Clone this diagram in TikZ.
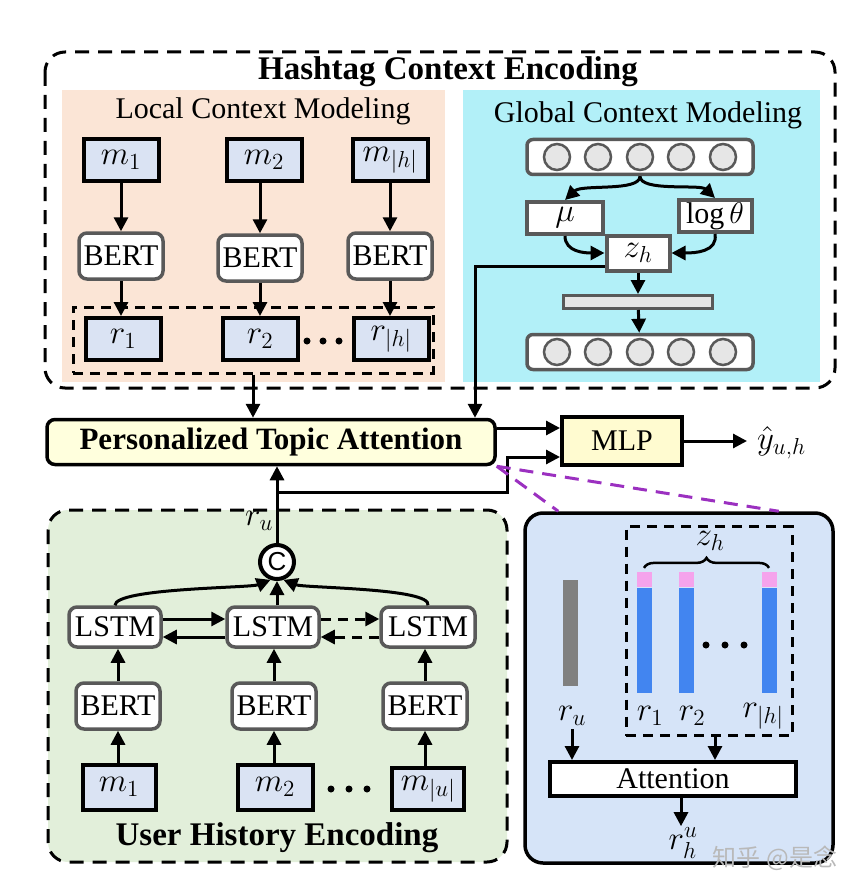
\documentclass[tikz,border=0pt]{standalone}
\usepackage{fontspec}
\setmainfont{Liberation Serif}
\newfontfamily\cjk{Noto Sans CJK SC}
\newfontfamily\sanscirc{Liberation Sans}
% scalable math fonts for the large sizes used below
\DeclareFontShape{OML}{cmm}{m}{it}{<->cmmi12}{\skewchar\font=127 }
\DeclareFontShape{OMS}{cmsy}{m}{n}{<->cmsy10}{\skewchar\font=48 }
\DeclareFontShape{OT1}{cmr}{m}{n}{<->cmr12}{}
\DeclareFontShape{OMX}{cmex}{m}{n}{<->cmex10}{}
\usepackage{tikz}
\usetikzlibrary{arrows.meta,decorations.pathreplacing}
\definecolor{localbg}{HTML}{FBE5D6}
\definecolor{globalbg}{HTML}{B2F0F8}
\definecolor{userbg}{HTML}{E2EFDA}
\definecolor{boxblue}{HTML}{DAE3F3}
\definecolor{panelblue}{HTML}{D6E4F8}
\definecolor{ptayellow}{HTML}{FFFFDD}
\definecolor{mlpyellow}{HTML}{FFFBD0}
\definecolor{edgegray}{HTML}{595959}
\definecolor{unitgray}{HTML}{E6E6E6}
\definecolor{rugray}{HTML}{808080}
\definecolor{barblue}{HTML}{4285F0}
\definecolor{barpink}{HTML}{F5A3EC}
\definecolor{zoomline}{HTML}{9B30C0}
\tikzset{
  mathtxt/.style={font=\fontsize{33}{38}\selectfont},
  msg/.style={draw, line width=4pt, fill=boxblue, minimum width=75pt,
    minimum height=42pt, inner sep=0pt, mathtxt},
  enc/.style={draw=edgegray, line width=3.5pt, rounded corners=8pt, fill=white,
    minimum width=84pt, minimum height=46pt, inner sep=0pt},
  lat/.style={draw=edgegray, line width=4pt, fill=white, minimum height=32pt,
    inner sep=0pt},
  vecbar/.style={draw=edgegray, line width=3.5pt, rounded corners=6pt, fill=white,
    minimum width=226pt, minimum height=35pt, inner sep=0pt},
  unit/.style={circle, draw=edgegray, line width=2.5pt, fill=unitgray,
    minimum size=26pt, inner sep=0pt},
  arr/.style={line width=3pt, -{Triangle[length=14pt,width=14pt]}},
  groupbox/.style={draw, line width=3pt, dash pattern=on 14pt off 9pt,
    rounded corners=20pt},
  dashbox/.style={draw, line width=3pt, dash pattern=on 10pt off 7pt,
    inner sep=0pt},
  bluebar/.style={fill=barblue, minimum width=15pt, minimum height=105pt,
    inner sep=0pt},
  pinktop/.style={fill=barpink, minimum width=15pt, minimum height=15pt,
    inner sep=0pt, anchor=south},
  dotsym/.style={circle, fill, minimum size=7pt, inner sep=0pt}
}

\begin{document}
\begin{tikzpicture}[x=1pt, y=-1pt, font=\fontsize{30}{36}\selectfont]
  \useasboundingbox (0,0) rectangle (860,896);

  % Hashtag context encoding
  \fill[localbg] (62,90) rectangle (445,382);
  \fill[globalbg] (463,90) rectangle (820,382);
  \draw[groupbox] (45,52) rectangle (835,388);
  \node[font=\fontsize{33}{38}\selectfont\bfseries] (htitle) at (448,72) {Hashtag Context Encoding};
  \node (ltitle) at (263,111) {Local Context Modeling};
  \node (gtitle) at (648,115) {Global Context Modeling};

  % Local context: messages -> BERT -> representations
  \node[msg] (hm1) at (121,160) {$m_1$};
  \node[msg] (hm2) at (264,160) {$m_2$};
  \node[msg] (hm3) at (390,160) {$m_{|h|}$};
  \node[enc] (hb1) at (121,256) {BERT};
  \node[enc] (hb2) at (260,258) {BERT};
  \node[enc] (hb3) at (390,256) {BERT};
  \node[dashbox, minimum width=360pt, minimum height=66pt] (hr) at (253,340) {};
  \node[msg] (hr1) at (123,339) {$r_1$};
  \node[msg] (hr2) at (260,339) {$r_2$};
  \node[msg] (hr3) at (391,339) {$r_{|h|}$};
  \node[dotsym] (hd1) at (307,341) {};
  \node[dotsym] (hd2) at (323,341) {};
  \node[dotsym] (hd3) at (339,341) {};
  \foreach \i in {1,2,3} {
    \draw[arr] (hb\i.north |- hm\i.south) -- (hb\i.north);
    \draw[arr] (hb\i.south) -- (hb\i.south |- hr\i.north);
  }

  % Global context: topic model
  \node[vecbar] (gin) at (640,157) {};
  \node[vecbar] (gout) at (640,352) {};
  \foreach \x [count=\i] in {557,598,640,681,723} {
    \node[unit] (gi\i) at (\x,157) {};
    \node[unit] (go\i) at (\x,352) {};
  }
  \node[lat, minimum width=76pt, mathtxt] (mu) at (565,218) {$\mu$};
  \node[lat, minimum width=73pt] (lt) at (715,216) {$\log\theta$};
  \node[lat, minimum width=63pt, minimum height=35pt, mathtxt] (zh) at (638,253) {$z_h$};
  \node[draw=edgegray, line width=3pt, fill=unitgray, minimum width=149pt,
    minimum height=13pt, inner sep=0pt] (gmid) at (638,302) {};
  \draw[arr] (gin.south) .. controls (640,192) and (582,184) .. (mu.north);
  \draw[arr] (gin.south) .. controls (640,192) and (700,184) .. (lt.north);
  \draw[arr] (mu.south) .. controls (565,252) and (585,253) .. (zh.west);
  \draw[arr] (lt.south) .. controls (718,252) and (695,253) .. (zh.east);
  \draw[arr] (zh) -- (gmid);
  \draw[arr] (gmid) -- (gout);

  % Personalized topic attention and prediction
  \node[draw, line width=3.5pt, rounded corners=8pt, fill=ptayellow,
    minimum width=448pt, minimum height=45pt, inner sep=0pt,
    font=\fontsize{31}{36}\selectfont\bfseries] (pta) at (271,442) {Personalized Topic Attention};
  \node[draw, line width=4pt, fill=mlpyellow, minimum width=120pt,
    minimum height=48pt, inner sep=0pt] (mlp) at (622,441) {MLP};
  \node[inner sep=0pt, anchor=west, mathtxt] (yhat) at (757,443) {$\hat{y}_{u,h}$};
  \draw[arr] (hr.south) -- (hr.south |- pta.north);
  \draw[arr] ([yshift=-13pt]zh.west) -| ([xshift=204pt]pta.north);
  \draw[arr] ([yshift=14pt]pta.east) -- ([yshift=14pt]pta.east -| mlp.west);
  \draw[arr] (mlp.east) -- ([xshift=-10pt]mlp.east -| yhat.west);

  % User history encoding
  \draw[groupbox, fill=userbg] (48,510) rectangle (507,862);
  \node[font=\fontsize{33}{38}\selectfont\bfseries] (utitle) at (277,838) {User History Encoding};
  \node[circle, draw, line width=4pt, fill=white, minimum size=34pt, inner sep=0pt,
    font=\fontsize{26}{30}\selectfont\sanscirc] (cc) at (277,562) {C};
  \node[mathtxt] (ulab) at (259,521) {$r_u$};
  \node[enc, minimum width=92pt, minimum height=40pt] (ul1) at (115,627) {LSTM};
  \node[enc, minimum width=92pt, minimum height=40pt] (ul2) at (273,627) {LSTM};
  \node[enc, minimum width=94pt, minimum height=40pt] (ul3) at (428,627) {LSTM};
  \node[enc] (ub1) at (118,706) {BERT};
  \node[enc] (ub2) at (274,706) {BERT};
  \node[enc] (ub3) at (425,706) {BERT};
  \node[msg, minimum width=73pt, minimum height=45pt] (um1) at (119,787) {$m_1$};
  \node[msg, minimum height=45pt] (um2) at (275,787) {$m_2$};
  \node[msg, minimum width=72pt] (um3) at (428,789) {$m_{|u|}$};
  \node[dotsym] (ud1) at (331,789) {};
  \node[dotsym] (ud2) at (349,789) {};
  \node[dotsym] (ud3) at (367,789) {};
  \foreach \i in {1,2,3} {
    \draw[arr] (ub\i.south |- um\i.north) -- (ub\i.south);
    \draw[arr] (ub\i.north) -- (ub\i.north |- ul\i.south);
  }
  \draw[arr] ([yshift=8pt]ul1.east) -- ([yshift=8pt]ul1.east -| ul2.west);
  \draw[arr] ([yshift=-10pt]ul2.west) -- ([yshift=-10pt]ul2.west -| ul1.east);
  \draw[arr, dash pattern=on 10pt off 7pt] ([yshift=8pt]ul2.east) -- ([yshift=8pt]ul2.east -| ul3.west);
  \draw[arr, dash pattern=on 10pt off 7pt] ([yshift=-10pt]ul3.west) -- ([yshift=-10pt]ul3.west -| ul2.east);
  \draw[arr] (ul1.north) .. controls (115,588) and (250,588) .. (cc.250);
  \draw[arr] (ul3.north) .. controls (432,588) and (304,588) .. (cc.290);
  \draw[arr] (cc.south |- ul2.north) -- (cc.south);
  \draw[arr] (cc.north) -- (cc.north |- pta.south);
  \coordinate (br) at (277,492);
  \draw[arr] (br) -- ++(230,0) |- ([yshift=-16pt]mlp.west);

  % Zoomed view of the attention
  \node[draw, line width=3.5pt, rounded corners=18pt, fill=panelblue,
    minimum width=308pt, minimum height=350pt] (zoom) at (679,688) {};
  \draw[zoomline, line width=3pt, dash pattern=on 14pt off 9pt] (pta.south east) -- ([xshift=-56pt]zoom.north east);
  \draw[zoomline, line width=3pt, dash pattern=on 14pt off 9pt] (pta.south east) -- ([xshift=35pt]zoom.north west);
  \node[fill=rugray, minimum width=15pt, minimum height=106pt, inner sep=0pt] (rubar) at (570,633) {};
  \node[dashbox, minimum width=166pt, minimum height=209pt] (zgrp) at (709,631) {};
  \foreach \x [count=\i] in {644,686,769} {
    \node[bluebar] (rb\i) at (\x,640) {};
    \node[pinktop] (tp\i) at (rb\i.north) {};
  }
  \draw[line width=2.5pt, decorate, decoration={brace, amplitude=10pt}]
    ([yshift=4pt]tp1.north) -- ([yshift=4pt]tp3.north);
  \node[mathtxt] (zlab) at (710,541) {$z_h$};
  \node[dotsym] (zd1) at (706,645) {};
  \node[dotsym] (zd2) at (725,645) {};
  \node[dotsym] (zd3) at (744,645) {};
  \node[mathtxt] (ru) at (572,716) {$r_u$};
  \node[mathtxt] (lr1) at (650,716) {$r_1$};
  \node[mathtxt] (lr2) at (692,716) {$r_2$};
  \node[mathtxt] (lr3) at (763,716) {$r_{|h|}$};
  \node[draw, line width=4pt, fill=white, minimum width=246pt, minimum height=34pt,
    inner sep=0pt] (attn) at (673,779) {Attention};
  \node[inner sep=1pt, mathtxt] (rhu) at (683,843) {$r_h^u$};
  \draw[arr] (ru.south) -- (ru.south |- attn.north);
  \draw[arr] ([xshift=6pt]zgrp.south) -- ([xshift=6pt]zgrp.south |- attn.north);
  \draw[arr] ([xshift=8pt]attn.south) -- ([xshift=8pt]attn.south |- rhu.north);

  % Watermark
  \node[text=gray!55, inner sep=0pt, font=\fontsize{24}{28}\selectfont\cjk] (wm) at (775,858) {知乎 @是念};

\end{tikzpicture}
\end{document}
